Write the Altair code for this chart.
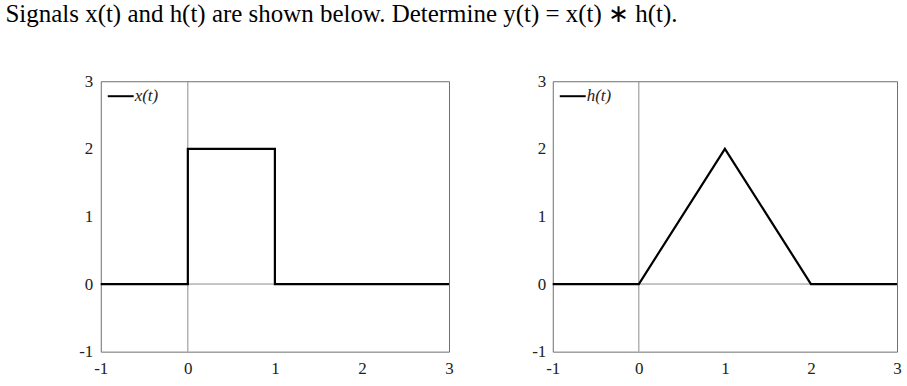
import altair as alt
import pandas as pd

# x(t): rectangular pulse
t_x = [-1, 0, 0, 1, 1, 3]
x_vals = [0, 0, 2, 2, 0, 0]
# h(t): triangle
t_h = [-1, 0, 1, 2, 3]
h_vals = [0, 0, 2, 0, 0]

ticks = [-1, 0, 1, 2, 3]
title_text = "Signals x(t) and h(t) are shown below. Determine y(t) = x(t) \u2217 h(t)."

FONT = "Liberation Serif"
FRAME = "#6e6e6e"
ZERO = "#8c8c8c"
LABEL_SIZE = 17

df_x = pd.DataFrame({"t": t_x, "v": x_vals, "s": ["x(t)"] * len(t_x), "o": list(range(len(t_x)))})
df_h = pd.DataFrame({"t": t_h, "v": h_vals, "s": ["h(t)"] * len(t_h), "o": list(range(len(t_h)))})
zero_df = pd.DataFrame({"z": [0]})

LABEL_EXPR = "'' + datum.value"


def panel(df, width, height, y_extent, y_pad, legend_label):
    xs = alt.Scale(domain=[-1, 3], nice=False, zero=False)
    ys = alt.Scale(domain=[-1, 3], nice=False, zero=False)
    xaxis = alt.Axis(values=ticks, ticks=False, domain=False, grid=False,
                     labelPadding=9, title=None, labelFlush=False, labelExpr=LABEL_EXPR)
    yaxis = alt.Axis(values=ticks, ticks=False, domain=False, grid=False,
                     labelPadding=y_pad, title=None, minExtent=y_extent, maxExtent=y_extent,
                     labelExpr=LABEL_EXPR)
    vrule = alt.Chart(zero_df).mark_rule(color=ZERO, strokeWidth=1).encode(
        x=alt.X("z:Q", scale=xs, axis=xaxis))
    hrule = alt.Chart(zero_df).mark_rule(color=ZERO, strokeWidth=1).encode(
        y=alt.Y("z:Q", scale=ys, axis=yaxis))
    line = alt.Chart(df).mark_line(strokeWidth=2.2).encode(
        x=alt.X("t:Q", scale=xs, axis=xaxis),
        y=alt.Y("v:Q", scale=ys, axis=yaxis),
        order="o:Q",
        color=alt.Color("s:N", scale=alt.Scale(domain=[legend_label], range=["black"]),
                        legend=alt.Legend(title=None, orient="none", legendX=6, legendY=1,
                                          padding=0, symbolType="stroke", symbolSize=676,
                                          symbolStrokeWidth=2, labelOffset=0,
                                          labelFont=FONT, labelFontSize=17,
                                          labelFontStyle="italic", labelColor="#222222")),
    )
    return alt.layer(vrule, hrule, line).properties(width=width, height=height)


left = panel(df_x, 349, 271, 95, 8, "x(t)")
right = panel(df_h, 345, 271, 22, 7, "h(t)")

chart = alt.hconcat(left, right, spacing=76).resolve_scale(color="independent").resolve_legend(
    color="independent"
).properties(
    title=alt.TitleParams(title_text, anchor="start", font=FONT, fontSize=25,
                          fontWeight="normal", color="black", offset=45),
    padding={"left": 5, "top": 1, "right": 5, "bottom": 5},
    background="white",
).configure_view(stroke=FRAME, strokeWidth=1).configure_axis(
    labelFont=FONT, labelFontSize=LABEL_SIZE, labelColor="#222222"
)

chart.save("out.html", embed_options={"renderer": "svg", "actions": False})
